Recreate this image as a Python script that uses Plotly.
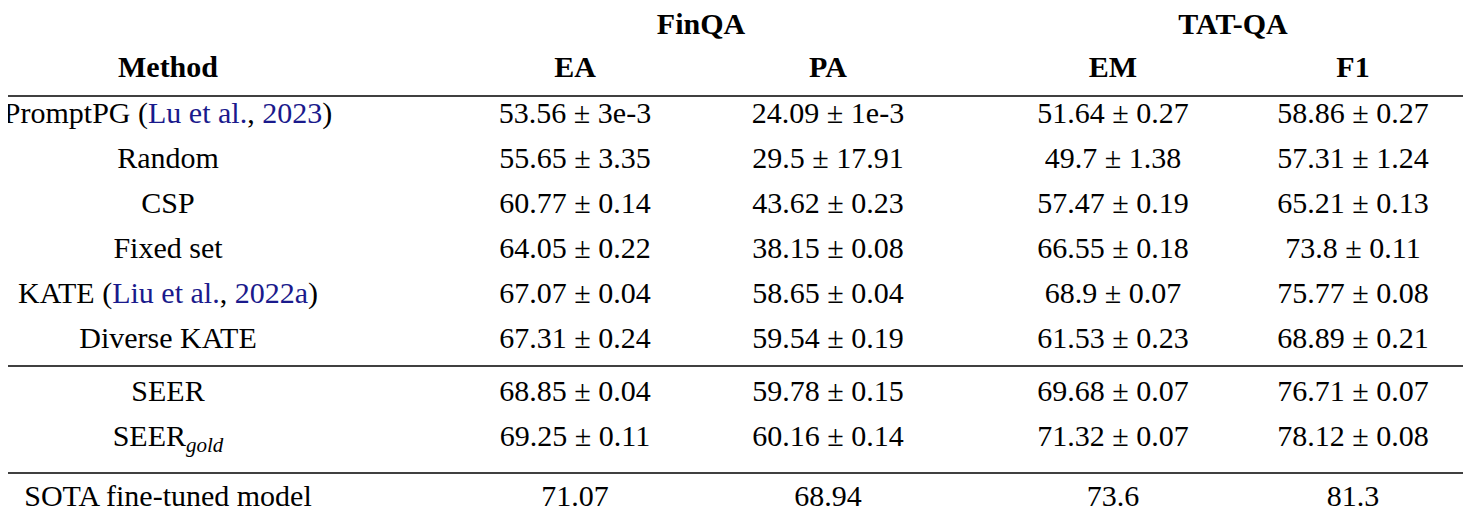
import plotly.graph_objects as go

# table contents
groups = ["FinQA", "TAT-QA"]
columns = ["Method", "EA", "PA", "EM", "F1"]
cite = '<span style="color:#1a1a8c">{}</span>'
methods = [
    "PromptPG (" + cite.format("Lu et al.") + ", " + cite.format("2023") + ")",
    "Random",
    "CSP",
    "Fixed set",
    "KATE (" + cite.format("Liu et al.") + ", " + cite.format("2022a") + ")",
    "Diverse KATE",
    "SEER",
    "SEER<sub><i>gold</i></sub>",
    "SOTA fine-tuned model",
]
ea = ["53.56 ± 3e-3", "55.65 ± 3.35", "60.77 ± 0.14", "64.05 ± 0.22", "67.07 ± 0.04",
      "67.31 ± 0.24", "68.85 ± 0.04", "69.25 ± 0.11", "71.07"]
pa = ["24.09 ± 1e-3", "29.5 ± 17.91", "43.62 ± 0.23", "38.15 ± 0.08", "58.65 ± 0.04",
      "59.54 ± 0.19", "59.78 ± 0.15", "60.16 ± 0.14", "68.94"]
em = ["51.64 ± 0.27", "49.7 ± 1.38", "57.47 ± 0.19", "66.55 ± 0.18", "68.9 ± 0.07",
      "61.53 ± 0.23", "69.68 ± 0.07", "71.32 ± 0.07", "73.6"]
f1 = ["58.86 ± 0.27", "57.31 ± 1.24", "65.21 ± 0.13", "73.8 ± 0.11", "75.77 ± 0.08",
      "68.89 ± 0.21", "76.71 ± 0.07", "78.12 ± 0.08", "81.3"]

col_x = [160, 567, 820, 1105, 1345]
group_x = [693, 1225]
row_y = [107, 152, 197, 242, 287, 332, 385, 430, 490]
font = "Liberation Serif"

fig = go.Figure()
fig.add_trace(go.Scatter(x=group_x, y=[18, 18], text=["<b>%s</b>" % g for g in groups],
                         mode="text", cliponaxis=False,
                         textfont=dict(size=30, family=font, color="black")))
fig.add_trace(go.Scatter(x=col_x, y=[61] * 5, text=["<b>%s</b>" % c for c in columns],
                         mode="text", cliponaxis=False,
                         textfont=dict(size=30, family=font, color="black")))
for cx, vals in zip(col_x, [methods, ea, pa, em, f1]):
    fig.add_trace(go.Scatter(x=[cx] * len(vals), y=row_y, text=vals, mode="text",
                             cliponaxis=False,
                             textfont=dict(size=30, family=font, color="black")))

for y in [88, 358, 465, 513]:
    fig.add_shape(type="line", x0=0, x1=1471, y0=y, y1=y, line=dict(color="black", width=1.5))

fig.update_layout(
    width=1471, height=518, margin=dict(l=0, r=0, t=0, b=0, pad=0),
    plot_bgcolor="white", paper_bgcolor="white", showlegend=False,
    font=dict(family=font),
    xaxis=dict(range=[0, 1471], visible=False),
    yaxis=dict(range=[518, 0], visible=False),
)
fig.write_html("out.html")
